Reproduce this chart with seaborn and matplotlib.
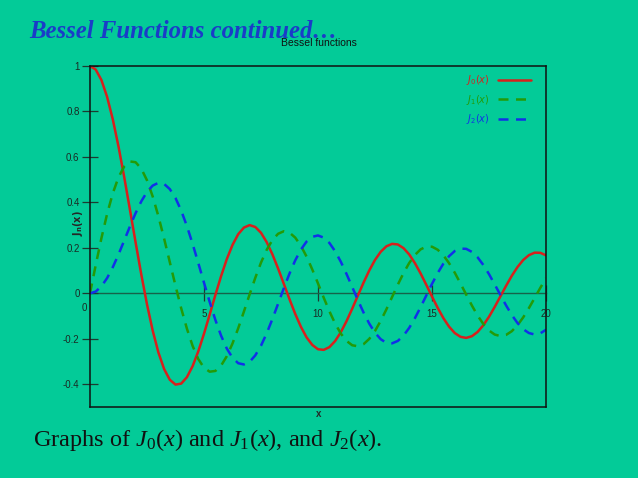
import numpy as np
import pandas as pd
import matplotlib
matplotlib.use("Agg")
import matplotlib.pyplot as plt
import seaborn as sns

x_vals = [0.0, 0.25, 0.5, 0.75, 1.0, 1.25, 1.5, 1.75, 2.0, 2.25, 2.5, 2.75,
          3.0, 3.25, 3.5, 3.75, 4.0, 4.25, 4.5, 4.75, 5.0, 5.25, 5.5, 5.75,
          6.0, 6.25, 6.5, 6.75, 7.0, 7.25, 7.5, 7.75, 8.0, 8.25, 8.5, 8.75,
          9.0, 9.25, 9.5, 9.75, 10.0, 10.25, 10.5, 10.75, 11.0, 11.25, 11.5,
          11.75, 12.0, 12.25, 12.5, 12.75, 13.0, 13.25, 13.5, 13.75, 14.0,
          14.25, 14.5, 14.75, 15.0, 15.25, 15.5, 15.75, 16.0, 16.25, 16.5,
          16.75, 17.0, 17.25, 17.5, 17.75, 18.0, 18.25, 18.5, 18.75, 19.0,
          19.25, 19.5, 19.75, 20.0]
j0_vals = [1.0, 0.9844, 0.9385, 0.8642, 0.7652, 0.6459, 0.5118, 0.3690,
           0.2239, 0.0827, -0.0484, -0.1641, -0.2601, -0.3328, -0.3801, -0.4014,
           -0.3971, -0.3689, -0.3205, -0.2550, -0.1776, -0.0931, -0.0068, 0.0758,
           0.1506, 0.2128, 0.2601, 0.2892, 0.3001, 0.2918, 0.2663, 0.2251,
           0.1717, 0.1092, 0.0419, -0.0259, -0.0903, -0.1472, -0.1939, -0.2271,
           -0.2459, -0.2487, -0.2366, -0.2099, -0.1712, -0.1226, -0.0677, -0.0097,
           0.0477, 0.1008, 0.1469, 0.1827, 0.2069, 0.2176, 0.2150, 0.1989,
           0.1711, 0.1330, 0.0875, 0.0374, -0.0142, -0.0640, -0.1092, -0.1468,
           -0.1749, -0.1913, -0.1960, -0.1886, -0.1699, -0.1405, -0.1031, -0.0598,
           -0.0134, 0.0332, 0.0772, 0.1156, 0.1466, 0.1679, 0.1789, 0.1783,
           0.1670]
j1_vals = [0.0, 0.1240, 0.2423, 0.3492, 0.4401, 0.5106, 0.5579, 0.5802,
           0.5767, 0.5484, 0.4971, 0.4260, 0.3391, 0.2411, 0.1374, 0.0332,
           -0.0660, -0.1553, -0.2311, -0.2890, -0.3276, -0.3447, -0.3414, -0.3177,
           -0.2767, -0.2206, -0.1538, -0.0803, -0.0047, 0.0684, 0.1352, 0.1914,
           0.2346, 0.2620, 0.2731, 0.2670, 0.2453, 0.2090, 0.1613, 0.1048,
           0.0435, -0.0190, -0.0789, -0.1324, -0.1768, -0.2092, -0.2284, -0.2329,
           -0.2234, -0.2002, -0.1655, -0.1211, -0.0703, -0.0162, 0.0380, 0.0888,
           0.1334, 0.1687, 0.1934, 0.2055, 0.2051, 0.1918, 0.1672, 0.1325,
           0.0904, 0.0434, -0.0056, -0.0536, -0.0977, -0.1349, -0.1634, -0.1813,
           -0.1880, -0.1828, -0.1666, -0.1402, -0.1057, -0.0650, -0.0209, 0.0239,
           0.0668]
j2_vals = [0.0, 0.0078, 0.0306, 0.0671, 0.1149, 0.1711, 0.2321, 0.2940,
           0.3528, 0.4047, 0.4461, 0.4739, 0.4861, 0.4811, 0.4586, 0.4191,
           0.3641, 0.2958, 0.2178, 0.1333, 0.0466, -0.0382, -0.1173, -0.1864,
           -0.2429, -0.2834, -0.3074, -0.3130, -0.3014, -0.2729, -0.2303, -0.1757,
           -0.1130, -0.0457, 0.0223, 0.0869, 0.1448, 0.1924, 0.2279, 0.2486,
           0.2546, 0.2450, 0.2216, 0.1853, 0.1390, 0.0854, 0.0280, -0.0299,
           -0.0849, -0.1335, -0.1734, -0.2017, -0.2177, -0.2200, -0.2094, -0.1860,
           -0.1520, -0.1093, -0.0608, -0.0095, 0.0416, 0.0892, 0.1308, 0.1636,
           0.1862, 0.1967, 0.1957, 0.1822, 0.1584, 0.1249, 0.0844, 0.0393,
           -0.0075, -0.0532, -0.0952, -0.1306, -0.1577, -0.1747, -0.1810, -0.1759,
           -0.1603]

series_labels = [r"$J_0(x)$", r"$J_1(x)$", r"$J_2(x)$"]
y_ticks = [-0.4, -0.2, 0, 0.2, 0.4, 0.6, 0.8, 1]
y_tick_labels = ["-0.4", "-0.2", "0", "0.2", "0.4", "0.6", "0.8", "1"]
x_ticks = [5, 10, 15, 20]
x_tick_labels = ["5", "10", "15", "20"]

BG = "#03CB98"
colors = ["#d8201c", "#249a08", "#1230e8"]
styles = ["-", (0, (4, 3)), (0, (4, 3))]

sns.set_style("ticks")
plt.rcParams["font.family"] = ["Liberation Sans", "DejaVu Sans"]
plt.rcParams["mathtext.fontset"] = "custom"
plt.rcParams["mathtext.rm"] = "Liberation Serif"
plt.rcParams["mathtext.it"] = "Liberation Serif:italic"
plt.rcParams["mathtext.bf"] = "Liberation Serif:bold"

fig = plt.figure(figsize=(6.38, 4.78), dpi=100, facecolor=BG)
ax = fig.add_axes([90 / 638, 1 - 407 / 478, 456 / 638, 341 / 478], facecolor=BG)

for vals, lab, col, ls in zip([j0_vals, j1_vals, j2_vals], series_labels, colors, styles):
    df = pd.DataFrame({"x": x_vals, "y": vals})
    sns.lineplot(data=df, x="x", y="y", ax=ax, color=col, linestyle=ls,
                 linewidth=1.8, label=lab)

ax.set_xlim(0, 20)
ax.set_ylim(-0.5, 1)
for sp in ax.spines.values():
    sp.set_visible(True)
    sp.set_color("#111111")
    sp.set_linewidth(1.1)

ax.set_xticks([])
ax.set_yticks(y_ticks)
ax.set_yticklabels(y_tick_labels)
ax.tick_params(axis="y", direction="inout", length=11, width=0.9, pad=2,
               labelsize=7, colors="#1d3a30", labelcolor="#1a2a24")
ax.set_xlabel("")

# zero axis with x ticks
sec = ax.secondary_xaxis(1 / 3)
sec.set_xticks(x_ticks)
sec.set_xticklabels(x_tick_labels)
sec.tick_params(direction="inout", length=11, width=0.9, pad=6, labelsize=7,
                colors="#1d3a30", labelcolor="#1a2a24")
for sp in sec.spines.values():
    sp.set_color("#17634a")
    sp.set_linewidth(1.0)
ax.text(-0.25, -0.065, "0", ha="center", va="center", fontsize=7, color="#1a2a24")

leg = ax.legend(loc="upper right", bbox_to_anchor=(0.975, 0.99), frameon=False,
                markerfirst=False, fontsize=7, handlelength=3.4, labelspacing=0.55,
                labelcolor="linecolor", borderaxespad=0)
for t in leg.get_texts():
    t.set_math_fontfamily("dejavusans")

ax.set_ylabel(r"$\mathbf{J_n(x)}$", fontsize=7, math_fontfamily="dejavusans")
ax.yaxis.set_label_coords(-0.011, 0.54)
fig.text(319 / 638, 1 - 414 / 478, "x", ha="center", va="center", fontsize=7,
         fontweight="bold")

fig.text(319 / 638, 1 - 43 / 478, "Bessel functions", ha="center", va="center",
         fontsize=7.5, color="#111111")

fig.text(29 / 638, 1 - 31 / 478, "Bessel Functions continued…", ha="left",
         va="center", fontsize=17.8, fontweight="bold", fontstyle="italic",
         family="Liberation Serif", color="#1a3cc8")

fig.text(33 / 638, 1 - 440 / 478,
         r"Graphs of $\mathit{J_0(x)}$ and $\mathit{J_1(x)}$, and $\mathit{J_2(x)}$.",
         ha="left", va="center", fontsize=17.5, family="Liberation Serif",
         math_fontfamily="custom", color="#111111")

fig.savefig("out.png", dpi=100, facecolor=BG)
